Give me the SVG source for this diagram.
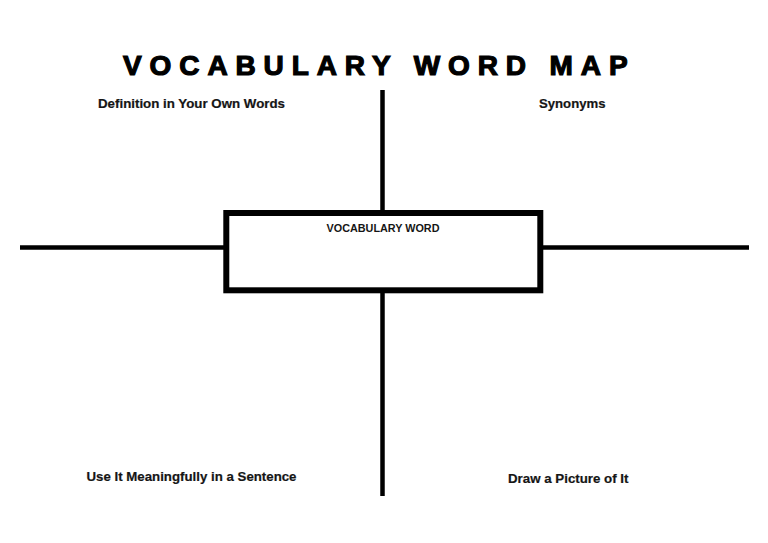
<svg xmlns="http://www.w3.org/2000/svg" width="768" height="543" viewBox="0 0 768 543">
<style>
.bg{fill:#fff}
.ln{stroke:#000;stroke-width:4.5;fill:none;stroke-linecap:butt}
.box{fill:#fff;stroke:#000;stroke-width:6}
.lbl{font-family:"Liberation Sans",Arial,sans-serif;font-weight:bold;font-size:13px;fill:#151515;stroke:#151515;stroke-width:0.2}
.title{font-family:"Liberation Sans",Arial,sans-serif;font-weight:bold;font-size:28px;fill:#000;stroke:#000;stroke-width:1.2;letter-spacing:7.9px}
.word{font-family:"Liberation Sans",Arial,sans-serif;font-weight:bold;font-size:10px;fill:#151515}
</style>
<rect class="bg" x="0" y="0" width="768" height="543"/>
<g id="title">
<text class="title" x="123" y="74.5">VOCABULARY WORD MAP</text>
</g>
<g id="connectors">
<line class="ln" x1="382.5" y1="90" x2="382.5" y2="213"/>
<line class="ln" x1="382.5" y1="290" x2="382.5" y2="496"/>
<line class="ln" x1="20" y1="247.5" x2="226" y2="247.5"/>
<line class="ln" x1="540" y1="247.5" x2="749" y2="247.5"/>
</g>
<g id="center">
<rect class="box" x="226.3" y="213" width="314" height="77.3"/>
<text class="word" x="383" y="231.5" text-anchor="middle" textLength="113" lengthAdjust="spacingAndGlyphs">VOCABULARY WORD</text>
</g>
<g id="definition">
<text class="lbl" x="98" y="107.5" textLength="187" lengthAdjust="spacingAndGlyphs">Definition in Your Own Words</text>
</g>
<g id="synonyms">
<text class="lbl" x="539" y="107.5" textLength="66.5" lengthAdjust="spacingAndGlyphs">Synonyms</text>
</g>
<g id="sentence">
<text class="lbl" x="86.5" y="480.5" textLength="210" lengthAdjust="spacingAndGlyphs">Use It Meaningfully in a Sentence</text>
</g>
<g id="picture">
<text class="lbl" x="508" y="482.7" textLength="120.5" lengthAdjust="spacingAndGlyphs">Draw a Picture of It</text>
</g>
</svg>
